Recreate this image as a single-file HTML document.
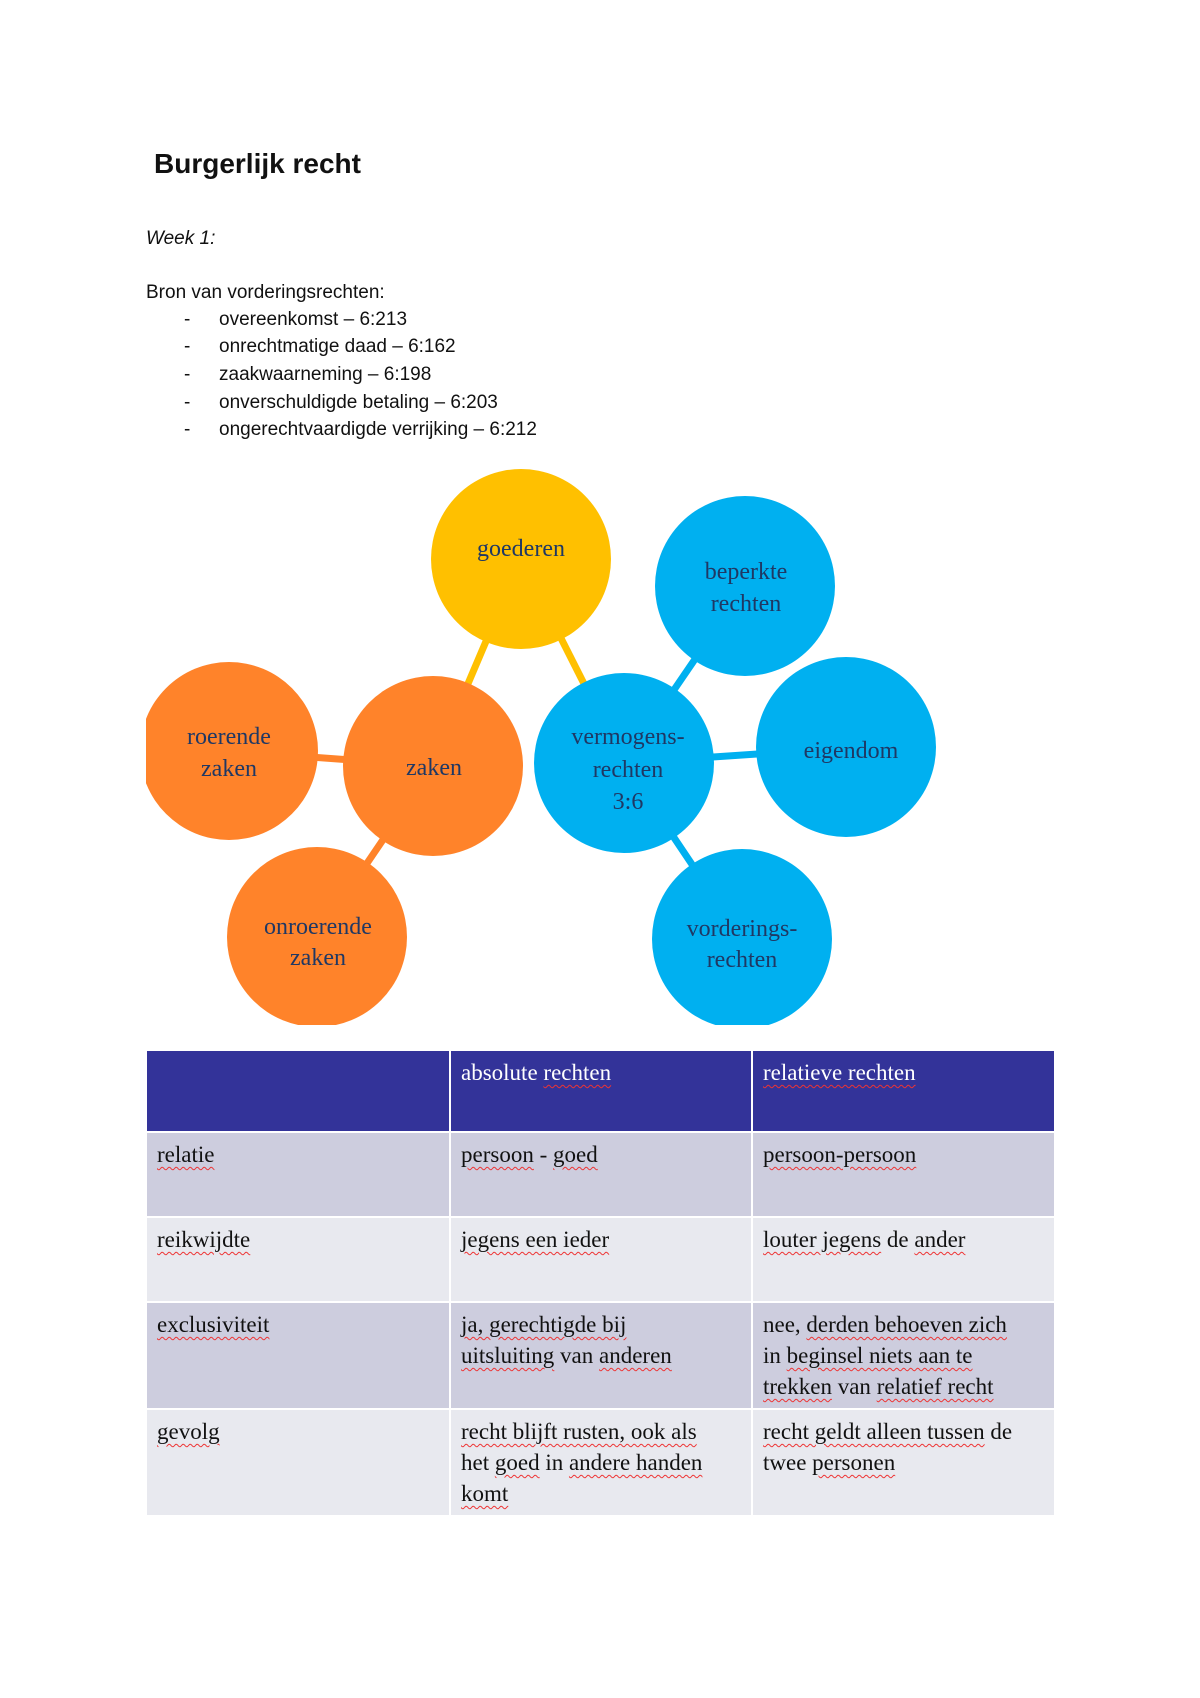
<!DOCTYPE html>
<html><head><meta charset="utf-8"><style>
body{margin:0;width:1200px;height:1698px;background:#fff;position:relative;overflow:hidden;font-family:"Liberation Sans",sans-serif;}
.a{position:absolute;white-space:nowrap;color:#111;}
.l{font-size:19px;}
table{position:absolute;left:145px;top:1049px;width:908px;table-layout:fixed;border-collapse:collapse;font-family:"Liberation Serif",serif;font-size:23px;color:#111;}
td{vertical-align:top;padding:6px 10px;line-height:31px;border-left:2px solid #fff;border-top:2px solid #fff;white-space:nowrap;overflow:hidden;box-sizing:border-box;}
.u{text-decoration:underline wavy #e33;text-decoration-thickness:1px;text-underline-offset:4px;}
</style></head><body>
<div class="a" style="left:154px;top:148px;font-size:28px;font-weight:bold;">Burgerlijk recht</div>
<div class="a" style="left:146px;top:228px;font-size:19px;font-style:italic;">Week 1:</div>
<div class="a l" style="left:146px;top:282px;">Bron van vorderingsrechten:</div>
<div class="a l" style="left:184px;top:309px;">-</div><div class="a l" style="left:219px;top:309px;">overeenkomst – 6:213</div>
<div class="a l" style="left:184px;top:336px;">-</div><div class="a l" style="left:219px;top:336px;">onrechtmatige daad – 6:162</div>
<div class="a l" style="left:184px;top:364px;">-</div><div class="a l" style="left:219px;top:364px;">zaakwaarneming – 6:198</div>
<div class="a l" style="left:184px;top:392px;">-</div><div class="a l" style="left:219px;top:392px;">onverschuldigde betaling – 6:203</div>
<div class="a l" style="left:184px;top:419px;">-</div><div class="a l" style="left:219px;top:419px;">ongerechtvaardigde verrijking – 6:212</div>

<svg style="position:absolute;left:0;top:0" width="1200" height="1698">
<defs><clipPath id="c"><rect x="146" y="400" width="1000" height="625"/></clipPath></defs>
<g clip-path="url(#c)">
<g transform="translate(-4,-4)" font-family="Liberation Serif,serif" font-size="24" fill="#1F3864" text-anchor="middle">
<line x1="525" y1="563" x2="437" y2="770" stroke="#FFC000" stroke-width="7"/>
<line x1="525" y1="563" x2="628" y2="767" stroke="#FFC000" stroke-width="7"/>
<line x1="233" y1="755" x2="437" y2="770" stroke="#FF832A" stroke-width="7"/>
<line x1="321" y1="941" x2="437" y2="770" stroke="#FF832A" stroke-width="7"/>
<line x1="628" y1="767" x2="749" y2="590" stroke="#00B0F0" stroke-width="7"/>
<line x1="628" y1="767" x2="850" y2="752" stroke="#00B0F0" stroke-width="7"/>
<line x1="628" y1="767" x2="746" y2="943" stroke="#00B0F0" stroke-width="7"/>
<circle cx="525" cy="563" r="90" fill="#FFC000"/>
<circle cx="749" cy="590" r="90" fill="#00B0F0"/>
<circle cx="233" cy="755" r="89" fill="#FF832A"/>
<circle cx="437" cy="770" r="90" fill="#FF832A"/>
<circle cx="628" cy="767" r="90" fill="#00B0F0"/>
<circle cx="850" cy="751" r="90" fill="#00B0F0"/>
<circle cx="321" cy="941" r="90" fill="#FF832A"/>
<circle cx="746" cy="943" r="90" fill="#00B0F0"/>
<text x="525" y="560">goederen</text>
<text x="750" y="583">beperkte</text><text x="750" y="615">rechten</text>
<text x="233" y="748">roerende</text><text x="233" y="780">zaken</text>
<text x="438" y="779">zaken</text>
<text x="632" y="748">vermogens-</text><text x="632" y="781">rechten</text><text x="632" y="813">3:6</text>
<text x="855" y="762">eigendom</text>
<text x="322" y="938">onroerende</text><text x="322" y="969">zaken</text>
<text x="746" y="940">vorderings-</text><text x="746" y="971">rechten</text>
</g></g></svg>

<table>
<colgroup><col style="width:304px"><col style="width:302px"><col style="width:302px"></colgroup>
<tr style="background:#333399;color:#fff;height:82px"><td></td><td>absolute <span class="u">rechten</span></td><td><span class="u">relatieve rechten</span></td></tr>
<tr style="background:#CDCDDE;height:85px"><td><span class="u">relatie</span></td><td><span class="u">persoon</span> - <span class="u">goed</span></td><td><span class="u">persoon-persoon</span></td></tr>
<tr style="background:#E8E9EF;height:85px"><td><span class="u">reikwijdte</span></td><td><span class="u">jegens een ieder</span></td><td><span class="u">louter jegens</span> de <span class="u">ander</span></td></tr>
<tr style="background:#CDCDDE;height:99px"><td><span class="u">exclusiviteit</span></td><td><span class="u">ja, gerechtigde bij</span><br><span class="u">uitsluiting</span> van <span class="u">anderen</span></td><td>nee, <span class="u">derden behoeven zich</span><br>in <span class="u">beginsel niets aan te</span><br><span class="u">trekken</span> van <span class="u">relatief recht</span></td></tr>
<tr style="background:#E8E9EF;height:102px"><td><span class="u">gevolg</span></td><td><span class="u">recht blijft rusten, ook als</span><br>het <span class="u">goed</span> in <span class="u">andere handen</span><br><span class="u">komt</span></td><td><span class="u">recht geldt alleen tussen</span> de<br>twee <span class="u">personen</span></td></tr>
</table>
</body></html>
